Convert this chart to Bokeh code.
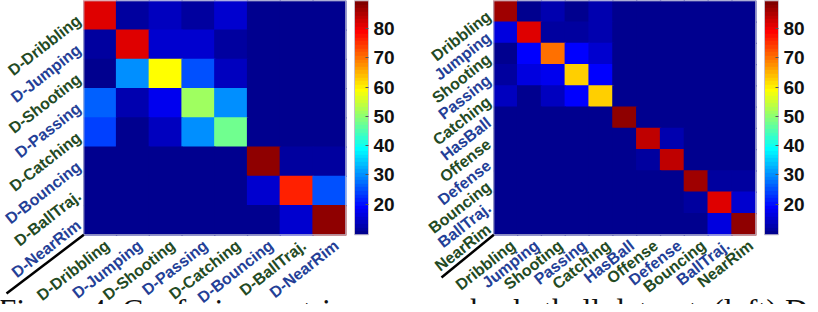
import numpy as np
from bokeh.plotting import figure
from bokeh.models import Range1d, ColumnDataSource, LinearColorMapper, ColorBar, FixedTicker
from bokeh.transform import transform
from bokeh.core.properties import value
from bokeh.embed import file_html
from bokeh.resources import INLINE

# ---------------- data ----------------
left_labels = ["D-Dribbling", "D-Jumping", "D-Shooting", "D-Passing",
               "D-Catching", "D-Bouncing", "D-BallTraj.", "D-NearRim"]
left_values = [
    [81.0, 12.0, 14.5, 11.5, 14.7, 10.0, 10.0, 10.0],
    [11.5, 81.0, 15.0, 15.0, 12.0, 10.0, 10.0, 10.0],
    [10.0, 30.5, 59.0, 25.8, 14.4, 10.0, 10.0, 10.0],
    [26.6, 12.8, 17.6, 51.0, 29.7, 10.0, 10.0, 10.0],
    [23.6, 10.5, 14.4, 29.7, 48.0, 10.0, 10.0, 10.0],
    [10.0, 10.0, 10.0, 10.0, 10.0, 87.5, 11.0, 11.0],
    [10.0, 10.0, 10.0, 10.0, 10.0, 15.6, 76.4, 25.0],
    [10.0, 10.0, 10.0, 10.0, 10.0, 10.0, 15.0, 87.5],
]
right_labels = ["Dribbling", "Jumping", "Shooting", "Passing", "Catching", "HasBall",
                "Offense", "Defense", "Bouncing", "BallTraj.", "NearRim"]
right_values = [
    [86.9, 10.0, 12.8, 10.0, 12.8, 10.0, 10.0, 10.0, 10.0, 10.0, 10.0],
    [16.0, 81.8, 12.0, 12.0, 12.3, 10.0, 10.0, 10.0, 10.0, 10.0, 10.0],
    [10.5, 18.4, 69.5, 19.2, 15.0, 10.0, 10.0, 10.0, 10.0, 10.0, 10.0],
    [12.0, 16.0, 18.0, 62.7, 19.2, 10.0, 10.0, 10.0, 10.0, 10.0, 10.0],
    [14.4, 10.5, 14.4, 19.2, 62.5, 10.0, 10.0, 10.0, 10.0, 10.0, 10.0],
    [10.0, 10.0, 10.0, 10.0, 10.0, 87.3, 10.0, 10.0, 10.0, 10.0, 10.0],
    [10.0, 10.0, 10.0, 10.0, 10.0, 10.0, 83.8, 12.3, 10.0, 10.0, 10.0],
    [10.0, 10.0, 10.0, 10.0, 10.0, 10.0, 12.0, 83.8, 10.0, 10.0, 10.0],
    [10.0, 10.0, 10.0, 10.0, 10.0, 10.0, 10.0, 10.0, 86.9, 11.6, 11.6],
    [10.0, 10.0, 10.0, 10.0, 10.0, 10.0, 10.0, 10.0, 11.6, 81.8, 15.0],
    [10.0, 10.0, 10.0, 10.0, 10.0, 10.0, 10.0, 10.0, 10.0, 16.8, 87.3],
]
cbar_ticks = [20, 30, 40, 50, 60, 70, 80]
cbar_low, cbar_high = 9.6, 89.4
caption = "Figure 4. Confusion matrices on our basketball dataset. (left) D-"

# ---------------- colormap (MATLAB jet, 64 levels) ----------------
def jet(n=64):
    m = int(np.ceil(n / 4))
    u = np.concatenate([np.arange(1, m + 1) / m, np.ones(m - 1), np.arange(m, 0, -1) / m])
    g = int(np.ceil(m / 2)) - (1 if n % 4 == 1 else 0) + np.arange(1, len(u) + 1)
    r = g + m
    b = g - m
    J = np.zeros((n, 3))
    J[r[r <= n] - 1, 0] = u[r <= n]
    J[g[g <= n] - 1, 1] = u[g <= n]
    J[b[b >= 1] - 1, 2] = u[b >= 1]
    return ["#%02x%02x%02x" % tuple(int(round(c * 255)) for c in row) for row in J]

palette = jet(64)
mapper = LinearColorMapper(palette=palette, low=cbar_low, high=cbar_high)

# ---------------- geometry (reference pixel space) ----------------
W, H = 810, 304
DX, DY = 4, 3
LEFT_BOX = (87.3, 349.3, 3.3, 237.3)
RIGHT_BOX = (497.3, 759.3, 3.3, 237.3)
GREEN, BLUE = "#234a23", "#243f97"
ANG = 38
OVERLAP_PX = 1.3

p = figure(width=W, height=H, x_range=Range1d(DX, DX + W), y_range=Range1d(DY + H, DY),
           output_backend="svg", toolbar_location=None, min_border=0,
           x_axis_location=None, y_axis_location=None)
p.grid.visible = False
p.outline_line_color = None
p.background_fill_color = "white"
p.border_fill_color = "white"

def ranges_for(box, n):
    L, R, T, B = box
    cw = (R - L) / n
    ch = (B - T) / n
    return (Range1d((DX - L) / cw, (DX + W - L) / cw),
            Range1d((DY + H - T) / ch, (DY - T) / ch), cw, ch)

lx, ly, lcw, lch = ranges_for(LEFT_BOX, len(left_labels))
rx, ry, rcw, rch = ranges_for(RIGHT_BOX, len(right_labels))
p.extra_x_ranges = {"L": lx, "R": rx}
p.extra_y_ranges = {"L": ly, "R": ry}

def draw_matrix(name, labels, values, box, cw, ch, line_end, bar_x):
    n = len(labels)
    xs, ys, vs = [], [], []
    for r, row in enumerate(values):
        for c, v in enumerate(row):
            xs.append(c + 0.5); ys.append(r + 0.5); vs.append(v)
    src = ColumnDataSource(dict(x=xs, y=ys, v=vs))
    # cells (slightly overlapping so that no seams show between them)
    p.rect(x="x", y="y", width=1 + OVERLAP_PX / cw, height=1 + OVERLAP_PX / ch, source=src,
           fill_color=transform("v", mapper), line_color=None,
           x_range_name=name, y_range_name=name)
    p.rect(x=[n / 2], y=[n / 2], width=n, height=n, fill_color=None,
           line_color="#c3c6d8", line_width=1, x_range_name=name, y_range_name=name)
    colors = [GREEN if i % 2 == 0 else BLUE for i in range(n)]
    ysrc = ColumnDataSource(dict(x=[0] * n, y=[i + 0.5 for i in range(n)], t=labels, c=colors))
    p.text(x="x", y="y", text="t", text_color="c", source=ysrc, angle=ANG, angle_units="deg",
           text_align="right", text_baseline="middle", x_offset=-5, y_offset=3,
           text_font=value("Liberation Sans"), text_font_style="bold", text_font_size="16px",
           x_range_name=name, y_range_name=name)
    xsrc = ColumnDataSource(dict(x=[i + 0.5 for i in range(n)], y=[n] * n, t=labels, c=colors))
    p.text(x="x", y="y", text="t", text_color="c", source=xsrc, angle=ANG, angle_units="deg",
           text_align="right", text_baseline="top", x_offset=2, y_offset=2,
           text_font=value("Liberation Sans"), text_font_style="bold", text_font_size="16px",
           x_range_name=name, y_range_name=name)
    L, R, T, B = box
    ex, ey = line_end
    p.line(x=[0, (ex - L) / cw], y=[n, (ey - T) / ch], line_color="black", line_width=2.5,
           x_range_name=name, y_range_name=name)
    cb = ColorBar(color_mapper=mapper, ticker=FixedTicker(ticks=cbar_ticks),
                  width=14, height=int(round(B - T)),
                  location=(bar_x - DX, (DY + H) - B), padding=0, margin=0,
                  label_standoff=5, major_label_text_font="Liberation Sans",
                  major_label_text_font_style="bold", major_label_text_font_size="19px",
                  major_label_text_color="#111111",
                  major_tick_in=3, major_tick_out=0, major_tick_line_color="#555555",
                  minor_tick_line_color=None, bar_line_color="#c8c0cc",
                  border_line_color=None, background_fill_alpha=0)
    p.add_layout(cb, "center")

draw_matrix("L", left_labels, left_values, LEFT_BOX, lcw, lch, (10, 296), 358)
draw_matrix("R", right_labels, right_values, RIGHT_BOX, rcw, rch, (445, 280), 768)

p.text(x=[2], y=[312], text=[caption], text_baseline="alphabetic", text_align="left",
       text_font=value("Liberation Serif"), text_font_size="32px", text_color="#111111")

open("out.html", "w").write(file_html(p, INLINE))
